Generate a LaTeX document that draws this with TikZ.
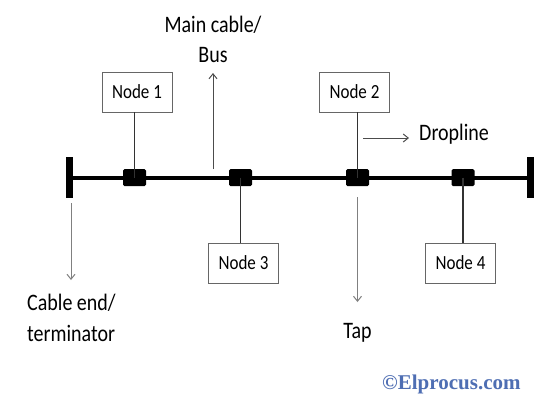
\documentclass[tikz,border=0pt]{standalone}
\usepackage{fontspec}
\setmainfont{Carlito}
\newfontfamily\wmfont{Liberation Serif}
\usetikzlibrary{arrows.meta}
\newcommand{\vstr}[1]{\scalebox{1}[1.18]{#1}}
\definecolor{wmblue}{HTML}{4E6EB3}
\tikzset{
  busline/.style={line width=4pt, black},
  termbar/.style={rectangle, fill=black, minimum width=7pt, minimum height=41pt, inner sep=0pt},
  tapbox/.style={rectangle, fill=black, rounded corners=1.5pt, minimum width=23pt, minimum height=17pt, inner sep=0pt},
  nodebox/.style={rectangle, draw=black!60, line width=0.8pt, fill=white, minimum width=70pt, minimum height=40pt, inner sep=0pt, font=\fontsize{17}{20}\selectfont},
  dropwire/.style={draw=black!80, line width=1.1pt},
  notearrow/.style={draw=black!50, line width=1pt, -{Straight Barb[length=5pt,width=8pt]}},
  darkarrow/.style={draw=black!70, line width=1pt, -{Straight Barb[length=5pt,width=8pt]}},
  label/.style={inner sep=0pt, font=\fontsize{20}{24}\selectfont},
}
\begin{document}
\begin{tikzpicture}[x=1pt,y=-1pt]
\useasboundingbox[fill=white] (0,0) rectangle (542,408);
% terminators and bus
\node[termbar] (tL) at (69,177.5) {};
\node[termbar] (tR) at (530,177.5) {};
\draw[busline] (tL.center) -- (tR.center);
% taps
\node[tapbox] (t1) at (134.5,177.5) {};
\node[tapbox] (t3) at (240.5,177.5) {};
\node[tapbox] (t2) at (357.5,177.5) {};
\node[tapbox] (t4) at (463,177.5) {};
% node boxes
\node[nodebox] (n1) at (137,92) {\vstr{Node 1}};
\node[nodebox] (n2) at (354.5,92) {\vstr{Node 2}};
\node[nodebox] (n3) at (243.5,263) {\vstr{Node 3}};
\node[nodebox] (n4) at (460.5,263) {\vstr{Node 4}};
% drop lines
\draw[dropwire] (t1.center) -- (t1.center |- n1.south);
\draw[dropwire] (t2.center) -- (t2.center |- n2.south);
\draw[dropwire] (t3.center) -- (t3.center |- n3.north);
\draw[dropwire] (t4.center) -- (t4.center |- n4.north);
% annotation arrows
\coordinate (busA) at (213,169);
\coordinate (busB) at (213,73);
\draw[darkarrow] (busA) -- (busB);
\coordinate (dropA) at (363,138);
\coordinate (dropB) at (409,138);
\draw[darkarrow] (dropA) -- (dropB);
\coordinate (endA) at (71,203);
\coordinate (endB) at (71,280);
\draw[notearrow] (endA) -- (endB);
\coordinate (tapA) at (357.5,197);
\coordinate (tapB) at (357.5,302);
\draw[notearrow] (tapA) -- (tapB);
% labels
\node[label, anchor=base] (lmain) at (213,32) {\vstr{Main cable/}};
\node[label, anchor=base] (lbus) at (213,62) {\vstr{Bus}};
\node[label, anchor=base west] (ldrop) at (419,140) {\vstr{Dropline}};
\node[label, anchor=base west] (lend) at (27,310) {\vstr{Cable end/}};
\node[label, anchor=base west] (lterm) at (27,341) {\vstr{terminator}};
\node[label, anchor=base] (ltap) at (357.5,338) {\vstr{Tap}};
\node[inner sep=0pt, anchor=base west, text=wmblue, font=\wmfont\bfseries\fontsize{21}{24}\selectfont] (wm) at (382,389) {©Elprocus.com};
\end{tikzpicture}
\end{document}
